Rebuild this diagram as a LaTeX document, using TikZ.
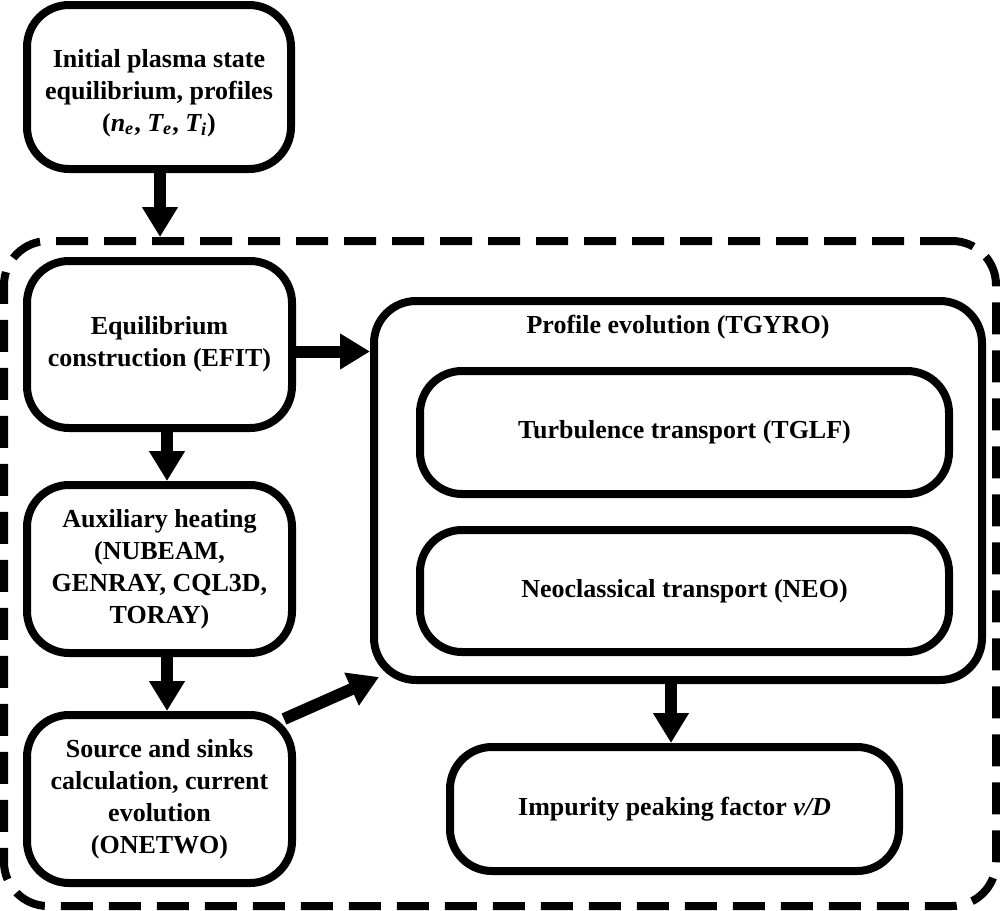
\documentclass[tikz,border=0pt]{standalone}
\usepackage{fontspec}
\setmainfont{Liberation Serif}
\usetikzlibrary{arrows.meta}
\tikzset{
  boxst/.style={draw=black, line width=4pt, rounded corners=21pt, fill=white,
    align=center, inner sep=0pt, font=\fontsize{13}{16}\selectfont\bfseries},
  txt/.style={align=center, inner sep=0pt, font=\fontsize{13}{16}\selectfont\bfseries},
  border/.style={draw=black, line width=4pt, rounded corners=22pt,
    dash pattern=on 16pt off 8pt, inner sep=0pt},
  arr/.style={line width=6pt, -{Triangle[width=17pt,length=15pt]}}
}
\begin{document}
\begin{tikzpicture}[x=0.5pt,y=-0.5pt]
\useasboundingbox (0,0) rectangle (1000,910);
% dashed frame
\node[border, minimum width=496pt, minimum height=332.5pt] (frame) at (500,573.5) {};
% left column
\node[boxst, minimum width=132pt, minimum height=82pt] (init) at (159,87) {};
\node[txt] (initt) at (159,93) {Initial plasma state\\equilibrium, profiles\\(\textit{n\textsubscript{e}}, \textit{T\textsubscript{e}}, \textit{T\textsubscript{i}})};
\node[boxst, minimum width=132.5pt, minimum height=83.5pt] (eq) at (159.5,344.5) {Equilibrium\\construction (EFIT)};
\node[boxst, minimum width=132.5pt, minimum height=84pt] (aux) at (159.5,569) {Auxiliary heating\\(NUBEAM,\\GENRAY, CQL3D,\\TORAY)};
\node[boxst, minimum width=132.5pt, minimum height=84pt] (src) at (159.5,799) {Source and sinks\\calculation, current\\evolution\\(ONETWO)};
% right column
\node[boxst, minimum width=304pt, minimum height=189.5pt] (prof) at (678,490.5) {};
\node[txt] (proft) at (678,327) {Profile evolution (TGYRO)};
\node[boxst, minimum width=264.5pt, minimum height=61.5pt] (turb) at (684.5,432.5) {Turbulence transport (TGLF)};
\node[boxst, minimum width=264.5pt, minimum height=61pt] (neo) at (684.5,591) {Neoclassical transport (NEO)};
\node[boxst, minimum width=224.5pt, minimum height=62pt] (imp) at (674.5,809) {Impurity peaking factor \textit{v/D}};
% connectors
\draw[arr] ([xshift=0.5pt]init.south) -- ([xshift=0.5pt]init.south |- frame.north);
\draw[arr] ([yshift=-3.5pt]eq.east) -- ([yshift=-3.5pt]eq.east -| prof.west);
\draw[arr] ([xshift=3.75pt]eq.south) -- ([xshift=3.75pt]eq.south |- aux.north);
\draw[arr] ([xshift=3.75pt]aux.south) -- ([xshift=3.75pt]aux.south |- src.north);
\draw[arr] ([xshift=-6pt,yshift=-4pt]src.north east) -- ([xshift=4.5pt,yshift=3.5pt]prof.south west);
\draw[arr] ([xshift=-3.5pt]prof.south) -- ([xshift=-3.5pt]prof.south |- imp.north);
\end{tikzpicture}
\end{document}
